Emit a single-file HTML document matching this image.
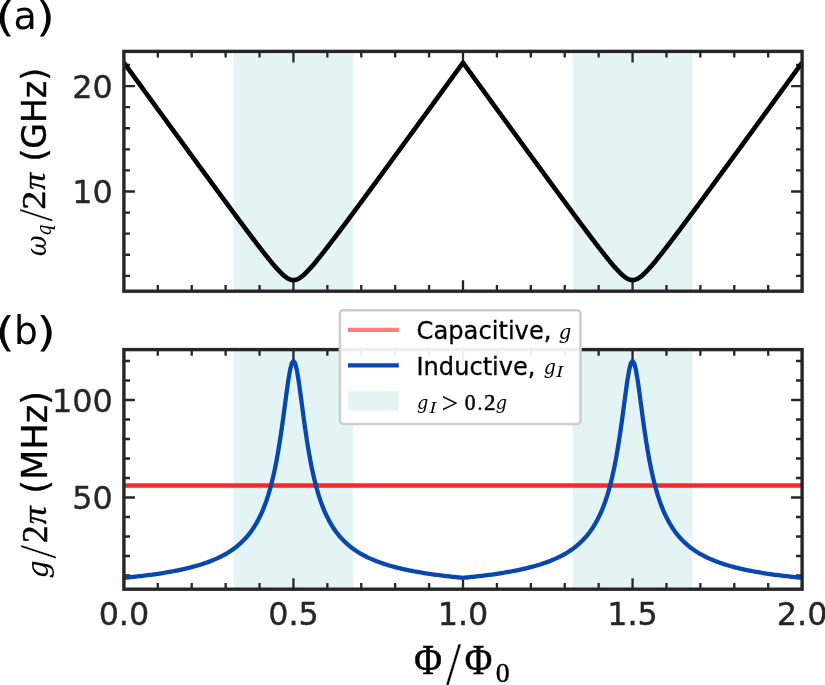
<!DOCTYPE html>
<html><head><meta charset="utf-8"><title>figure</title>
<style>html,body{margin:0;padding:0;background:#fff}svg{display:block}</style></head>
<body>
<svg width="825" height="685" viewBox="0 0 825 685">
<rect width="825" height="685" fill="#fff"/>
<defs>
<clipPath id="ca"><rect x="123.9" y="51.4" width="678.2" height="239.79999999999998"/></clipPath>
<clipPath id="cb"><rect x="123.9" y="349.6" width="678.2" height="239.60000000000002"/></clipPath>
</defs>
<rect x="233.60" y="51.4" width="119.70" height="239.79999999999998" fill="#e4f4f4"/>
<rect x="572.70" y="51.4" width="119.70" height="239.79999999999998" fill="#e4f4f4"/>
<path d="M157.81 51.4v6.1M157.81 291.2v-6.1M191.72 51.4v6.1M191.72 291.2v-6.1M225.63 51.4v6.1M225.63 291.2v-6.1M259.54 51.4v6.1M259.54 291.2v-6.1M293.45 51.4v11.0M293.45 291.2v-11.0M327.36 51.4v6.1M327.36 291.2v-6.1M361.27 51.4v6.1M361.27 291.2v-6.1M395.18 51.4v6.1M395.18 291.2v-6.1M429.09 51.4v6.1M429.09 291.2v-6.1M463.00 51.4v11.0M463.00 291.2v-11.0M496.91 51.4v6.1M496.91 291.2v-6.1M530.82 51.4v6.1M530.82 291.2v-6.1M564.73 51.4v6.1M564.73 291.2v-6.1M598.64 51.4v6.1M598.64 291.2v-6.1M632.55 51.4v11.0M632.55 291.2v-11.0M666.46 51.4v6.1M666.46 291.2v-6.1M700.37 51.4v6.1M700.37 291.2v-6.1M734.28 51.4v6.1M734.28 291.2v-6.1M768.19 51.4v6.1M768.19 291.2v-6.1M123.9 191.50h11.0M802.1 191.50h-11.0M123.9 86.10h11.0M802.1 86.10h-11.0M123.9 275.82h6.1M802.1 275.82h-6.1M123.9 254.74h6.1M802.1 254.74h-6.1M123.9 233.66h6.1M802.1 233.66h-6.1M123.9 212.58h6.1M802.1 212.58h-6.1M123.9 170.42h6.1M802.1 170.42h-6.1M123.9 149.34h6.1M802.1 149.34h-6.1M123.9 128.26h6.1M802.1 128.26h-6.1M123.9 107.18h6.1M802.1 107.18h-6.1M123.9 65.02h6.1M802.1 65.02h-6.1" stroke="#262626" stroke-width="2.3" fill="none"/>
<polyline points="123.90,62.70 124.75,63.87 125.60,65.03 126.44,66.20 127.29,67.36 128.14,68.53 128.99,69.69 129.83,70.85 130.68,72.02 131.53,73.18 132.38,74.35 133.23,75.51 134.07,76.68 134.92,77.84 135.77,79.01 136.62,80.17 137.46,81.34 138.31,82.50 139.16,83.66 140.01,84.83 140.86,85.99 141.70,87.16 142.55,88.32 143.40,89.49 144.25,90.65 145.09,91.81 145.94,92.98 146.79,94.14 147.64,95.31 148.48,96.47 149.33,97.63 150.18,98.80 151.03,99.96 151.88,101.12 152.72,102.29 153.57,103.45 154.42,104.61 155.27,105.78 156.11,106.94 156.96,108.10 157.81,109.27 158.66,110.43 159.51,111.59 160.35,112.76 161.20,113.92 162.05,115.08 162.90,116.25 163.74,117.41 164.59,118.57 165.44,119.73 166.29,120.90 167.14,122.06 167.98,123.22 168.83,124.38 169.68,125.55 170.53,126.71 171.37,127.87 172.22,129.03 173.07,130.20 173.92,131.36 174.77,132.52 175.61,133.68 176.46,134.84 177.31,136.00 178.16,137.17 179.00,138.33 179.85,139.49 180.70,140.65 181.55,141.81 182.39,142.97 183.24,144.13 184.09,145.29 184.94,146.45 185.79,147.61 186.63,148.77 187.48,149.93 188.33,151.10 189.18,152.26 190.02,153.42 190.87,154.57 191.72,155.73 192.57,156.89 193.42,158.05 194.26,159.21 195.11,160.37 195.96,161.53 196.81,162.69 197.65,163.85 198.50,165.01 199.35,166.16 200.20,167.32 201.05,168.48 201.89,169.64 202.74,170.80 203.59,171.95 204.44,173.11 205.28,174.27 206.13,175.42 206.98,176.58 207.83,177.74 208.68,178.89 209.52,180.05 210.37,181.20 211.22,182.36 212.07,183.52 212.91,184.67 213.76,185.82 214.61,186.98 215.46,188.13 216.30,189.29 217.15,190.44 218.00,191.59 218.85,192.75 219.70,193.90 220.54,195.05 221.39,196.20 222.24,197.35 223.09,198.50 223.93,199.65 224.78,200.80 225.63,201.95 226.48,203.10 227.33,204.25 228.17,205.40 229.02,206.55 229.87,207.69 230.72,208.84 231.56,209.99 232.41,211.13 233.26,212.28 234.11,213.42 234.96,214.57 235.80,215.71 236.65,216.85 237.50,217.99 238.35,219.13 239.19,220.27 240.04,221.41 240.89,222.55 241.74,223.69 242.59,224.82 243.43,225.96 244.28,227.09 245.13,228.22 245.98,229.36 246.82,230.49 247.67,231.61 248.52,232.74 249.37,233.87 250.21,234.99 251.06,236.12 251.91,237.24 252.76,238.36 253.61,239.47 254.45,240.59 255.30,241.70 256.15,242.81 257.00,243.92 257.84,245.03 258.69,246.13 259.54,247.23 260.39,248.33 261.24,249.42 262.08,250.51 262.93,251.60 263.78,252.68 264.63,253.76 265.47,254.83 266.32,255.90 267.17,256.96 268.02,258.01 268.87,259.06 269.71,260.11 270.56,261.14 271.41,262.16 272.26,263.18 273.10,264.19 273.95,265.18 274.80,266.17 275.65,267.13 276.50,268.09 277.34,269.03 278.19,269.95 279.04,270.85 279.89,271.73 280.73,272.58 281.58,273.41 282.43,274.21 283.28,274.97 284.12,275.70 284.97,276.39 285.82,277.03 286.67,277.62 287.52,278.16 288.36,278.64 289.21,279.05 290.06,279.40 290.91,279.68 291.75,279.87 292.60,280.00 293.45,280.04 294.30,280.00 295.15,279.87 295.99,279.68 296.84,279.40 297.69,279.05 298.54,278.64 299.38,278.16 300.23,277.62 301.08,277.03 301.93,276.39 302.78,275.70 303.62,274.97 304.47,274.21 305.32,273.41 306.17,272.58 307.01,271.73 307.86,270.85 308.71,269.95 309.56,269.03 310.41,268.09 311.25,267.13 312.10,266.17 312.95,265.18 313.80,264.19 314.64,263.18 315.49,262.16 316.34,261.14 317.19,260.11 318.03,259.06 318.88,258.01 319.73,256.96 320.58,255.90 321.43,254.83 322.27,253.76 323.12,252.68 323.97,251.60 324.82,250.51 325.66,249.42 326.51,248.33 327.36,247.23 328.21,246.13 329.06,245.03 329.90,243.92 330.75,242.81 331.60,241.70 332.45,240.59 333.29,239.47 334.14,238.36 334.99,237.24 335.84,236.12 336.69,234.99 337.53,233.87 338.38,232.74 339.23,231.61 340.08,230.49 340.92,229.36 341.77,228.22 342.62,227.09 343.47,225.96 344.32,224.82 345.16,223.69 346.01,222.55 346.86,221.41 347.71,220.27 348.55,219.13 349.40,217.99 350.25,216.85 351.10,215.71 351.94,214.57 352.79,213.42 353.64,212.28 354.49,211.13 355.34,209.99 356.18,208.84 357.03,207.69 357.88,206.55 358.73,205.40 359.57,204.25 360.42,203.10 361.27,201.95 362.12,200.80 362.97,199.65 363.81,198.50 364.66,197.35 365.51,196.20 366.36,195.05 367.20,193.90 368.05,192.75 368.90,191.59 369.75,190.44 370.60,189.29 371.44,188.13 372.29,186.98 373.14,185.82 373.99,184.67 374.83,183.52 375.68,182.36 376.53,181.20 377.38,180.05 378.23,178.89 379.07,177.74 379.92,176.58 380.77,175.42 381.62,174.27 382.46,173.11 383.31,171.95 384.16,170.80 385.01,169.64 385.85,168.48 386.70,167.32 387.55,166.16 388.40,165.01 389.25,163.85 390.09,162.69 390.94,161.53 391.79,160.37 392.64,159.21 393.48,158.05 394.33,156.89 395.18,155.73 396.03,154.57 396.88,153.42 397.72,152.26 398.57,151.10 399.42,149.93 400.27,148.77 401.11,147.61 401.96,146.45 402.81,145.29 403.66,144.13 404.51,142.97 405.35,141.81 406.20,140.65 407.05,139.49 407.90,138.33 408.74,137.17 409.59,136.00 410.44,134.84 411.29,133.68 412.13,132.52 412.98,131.36 413.83,130.20 414.68,129.03 415.53,127.87 416.37,126.71 417.22,125.55 418.07,124.38 418.92,123.22 419.76,122.06 420.61,120.90 421.46,119.73 422.31,118.57 423.16,117.41 424.00,116.25 424.85,115.08 425.70,113.92 426.55,112.76 427.39,111.59 428.24,110.43 429.09,109.27 429.94,108.10 430.79,106.94 431.63,105.78 432.48,104.61 433.33,103.45 434.18,102.29 435.02,101.12 435.87,99.96 436.72,98.80 437.57,97.63 438.42,96.47 439.26,95.31 440.11,94.14 440.96,92.98 441.81,91.81 442.65,90.65 443.50,89.49 444.35,88.32 445.20,87.16 446.05,85.99 446.89,84.83 447.74,83.66 448.59,82.50 449.44,81.34 450.28,80.17 451.13,79.01 451.98,77.84 452.83,76.68 453.67,75.51 454.52,74.35 455.37,73.18 456.22,72.02 457.07,70.85 457.91,69.69 458.76,68.53 459.61,67.36 460.46,66.20 461.30,65.03 462.15,63.87 463.00,62.70 463.85,63.87 464.70,65.03 465.54,66.20 466.39,67.36 467.24,68.53 468.09,69.69 468.93,70.85 469.78,72.02 470.63,73.18 471.48,74.35 472.33,75.51 473.17,76.68 474.02,77.84 474.87,79.01 475.72,80.17 476.56,81.34 477.41,82.50 478.26,83.66 479.11,84.83 479.96,85.99 480.80,87.16 481.65,88.32 482.50,89.49 483.35,90.65 484.19,91.81 485.04,92.98 485.89,94.14 486.74,95.31 487.58,96.47 488.43,97.63 489.28,98.80 490.13,99.96 490.98,101.12 491.82,102.29 492.67,103.45 493.52,104.61 494.37,105.78 495.21,106.94 496.06,108.10 496.91,109.27 497.76,110.43 498.61,111.59 499.45,112.76 500.30,113.92 501.15,115.08 502.00,116.25 502.84,117.41 503.69,118.57 504.54,119.73 505.39,120.90 506.24,122.06 507.08,123.22 507.93,124.38 508.78,125.55 509.63,126.71 510.47,127.87 511.32,129.03 512.17,130.20 513.02,131.36 513.87,132.52 514.71,133.68 515.56,134.84 516.41,136.00 517.26,137.17 518.10,138.33 518.95,139.49 519.80,140.65 520.65,141.81 521.49,142.97 522.34,144.13 523.19,145.29 524.04,146.45 524.89,147.61 525.73,148.77 526.58,149.93 527.43,151.10 528.28,152.26 529.12,153.42 529.97,154.57 530.82,155.73 531.67,156.89 532.52,158.05 533.36,159.21 534.21,160.37 535.06,161.53 535.91,162.69 536.75,163.85 537.60,165.01 538.45,166.16 539.30,167.32 540.15,168.48 540.99,169.64 541.84,170.80 542.69,171.95 543.54,173.11 544.38,174.27 545.23,175.42 546.08,176.58 546.93,177.74 547.77,178.89 548.62,180.05 549.47,181.20 550.32,182.36 551.17,183.52 552.01,184.67 552.86,185.82 553.71,186.98 554.56,188.13 555.40,189.29 556.25,190.44 557.10,191.59 557.95,192.75 558.80,193.90 559.64,195.05 560.49,196.20 561.34,197.35 562.19,198.50 563.03,199.65 563.88,200.80 564.73,201.95 565.58,203.10 566.43,204.25 567.27,205.40 568.12,206.55 568.97,207.69 569.82,208.84 570.66,209.99 571.51,211.13 572.36,212.28 573.21,213.42 574.06,214.57 574.90,215.71 575.75,216.85 576.60,217.99 577.45,219.13 578.29,220.27 579.14,221.41 579.99,222.55 580.84,223.69 581.69,224.82 582.53,225.96 583.38,227.09 584.23,228.22 585.08,229.36 585.92,230.49 586.77,231.61 587.62,232.74 588.47,233.87 589.31,234.99 590.16,236.12 591.01,237.24 591.86,238.36 592.71,239.47 593.55,240.59 594.40,241.70 595.25,242.81 596.10,243.92 596.94,245.03 597.79,246.13 598.64,247.23 599.49,248.33 600.34,249.42 601.18,250.51 602.03,251.60 602.88,252.68 603.73,253.76 604.57,254.83 605.42,255.90 606.27,256.96 607.12,258.01 607.97,259.06 608.81,260.11 609.66,261.14 610.51,262.16 611.36,263.18 612.20,264.19 613.05,265.18 613.90,266.17 614.75,267.13 615.60,268.09 616.44,269.03 617.29,269.95 618.14,270.85 618.99,271.73 619.83,272.58 620.68,273.41 621.53,274.21 622.38,274.97 623.22,275.70 624.07,276.39 624.92,277.03 625.77,277.62 626.62,278.16 627.46,278.64 628.31,279.05 629.16,279.40 630.01,279.68 630.85,279.87 631.70,280.00 632.55,280.04 633.40,280.00 634.25,279.87 635.09,279.68 635.94,279.40 636.79,279.05 637.64,278.64 638.48,278.16 639.33,277.62 640.18,277.03 641.03,276.39 641.88,275.70 642.72,274.97 643.57,274.21 644.42,273.41 645.27,272.58 646.11,271.73 646.96,270.85 647.81,269.95 648.66,269.03 649.50,268.09 650.35,267.13 651.20,266.17 652.05,265.18 652.90,264.19 653.74,263.18 654.59,262.16 655.44,261.14 656.29,260.11 657.13,259.06 657.98,258.01 658.83,256.96 659.68,255.90 660.53,254.83 661.37,253.76 662.22,252.68 663.07,251.60 663.92,250.51 664.76,249.42 665.61,248.33 666.46,247.23 667.31,246.13 668.16,245.03 669.00,243.92 669.85,242.81 670.70,241.70 671.55,240.59 672.39,239.47 673.24,238.36 674.09,237.24 674.94,236.12 675.79,234.99 676.63,233.87 677.48,232.74 678.33,231.61 679.18,230.49 680.02,229.36 680.87,228.22 681.72,227.09 682.57,225.96 683.42,224.82 684.26,223.69 685.11,222.55 685.96,221.41 686.81,220.27 687.65,219.13 688.50,217.99 689.35,216.85 690.20,215.71 691.04,214.57 691.89,213.42 692.74,212.28 693.59,211.13 694.44,209.99 695.28,208.84 696.13,207.69 696.98,206.55 697.83,205.40 698.67,204.25 699.52,203.10 700.37,201.95 701.22,200.80 702.07,199.65 702.91,198.50 703.76,197.35 704.61,196.20 705.46,195.05 706.30,193.90 707.15,192.75 708.00,191.59 708.85,190.44 709.70,189.29 710.54,188.13 711.39,186.98 712.24,185.82 713.09,184.67 713.93,183.52 714.78,182.36 715.63,181.20 716.48,180.05 717.33,178.89 718.17,177.74 719.02,176.58 719.87,175.42 720.72,174.27 721.56,173.11 722.41,171.95 723.26,170.80 724.11,169.64 724.95,168.48 725.80,167.32 726.65,166.16 727.50,165.01 728.35,163.85 729.19,162.69 730.04,161.53 730.89,160.37 731.74,159.21 732.58,158.05 733.43,156.89 734.28,155.73 735.13,154.57 735.98,153.42 736.82,152.26 737.67,151.10 738.52,149.93 739.37,148.77 740.21,147.61 741.06,146.45 741.91,145.29 742.76,144.13 743.61,142.97 744.45,141.81 745.30,140.65 746.15,139.49 747.00,138.33 747.84,137.17 748.69,136.00 749.54,134.84 750.39,133.68 751.24,132.52 752.08,131.36 752.93,130.20 753.78,129.03 754.63,127.87 755.47,126.71 756.32,125.55 757.17,124.38 758.02,123.22 758.86,122.06 759.71,120.90 760.56,119.73 761.41,118.57 762.26,117.41 763.10,116.25 763.95,115.08 764.80,113.92 765.65,112.76 766.49,111.59 767.34,110.43 768.19,109.27 769.04,108.10 769.89,106.94 770.73,105.78 771.58,104.61 772.43,103.45 773.28,102.29 774.12,101.12 774.97,99.96 775.82,98.80 776.67,97.63 777.52,96.47 778.36,95.31 779.21,94.14 780.06,92.98 780.91,91.81 781.75,90.65 782.60,89.49 783.45,88.32 784.30,87.16 785.14,85.99 785.99,84.83 786.84,83.66 787.69,82.50 788.54,81.34 789.38,80.17 790.23,79.01 791.08,77.84 791.93,76.68 792.77,75.51 793.62,74.35 794.47,73.18 795.32,72.02 796.17,70.85 797.01,69.69 797.86,68.53 798.71,67.36 799.56,66.20 800.40,65.03 801.25,63.87 802.10,62.70" fill="none" stroke="#000" stroke-width="4.65" stroke-linejoin="round" clip-path="url(#ca)"/>
<rect x="123.9" y="51.4" width="678.2" height="239.79999999999998" fill="none" stroke="#262626" stroke-width="3.4" stroke-linejoin="miter"/>
<rect x="233.60" y="349.6" width="119.70" height="239.60000000000002" fill="#e4f4f4"/>
<rect x="572.70" y="349.6" width="119.70" height="239.60000000000002" fill="#e4f4f4"/>
<path d="M157.81 349.6v6.1M157.81 589.2v-6.1M191.72 349.6v6.1M191.72 589.2v-6.1M225.63 349.6v6.1M225.63 589.2v-6.1M259.54 349.6v6.1M259.54 589.2v-6.1M293.45 349.6v11.0M293.45 589.2v-11.0M327.36 349.6v6.1M327.36 589.2v-6.1M361.27 349.6v6.1M361.27 589.2v-6.1M395.18 349.6v6.1M395.18 589.2v-6.1M429.09 349.6v6.1M429.09 589.2v-6.1M463.00 349.6v11.0M463.00 589.2v-11.0M496.91 349.6v6.1M496.91 589.2v-6.1M530.82 349.6v6.1M530.82 589.2v-6.1M564.73 349.6v6.1M564.73 589.2v-6.1M598.64 349.6v6.1M598.64 589.2v-6.1M632.55 349.6v11.0M632.55 589.2v-11.0M666.46 349.6v6.1M666.46 589.2v-6.1M700.37 349.6v6.1M700.37 589.2v-6.1M734.28 349.6v6.1M734.28 589.2v-6.1M768.19 349.6v6.1M768.19 589.2v-6.1M123.9 497.50h11.0M802.1 497.50h-11.0M123.9 400.00h11.0M802.1 400.00h-11.0M123.9 575.50h6.1M802.1 575.50h-6.1M123.9 556.00h6.1M802.1 556.00h-6.1M123.9 536.50h6.1M802.1 536.50h-6.1M123.9 517.00h6.1M802.1 517.00h-6.1M123.9 478.00h6.1M802.1 478.00h-6.1M123.9 458.50h6.1M802.1 458.50h-6.1M123.9 439.00h6.1M802.1 439.00h-6.1M123.9 419.50h6.1M802.1 419.50h-6.1M123.9 380.50h6.1M802.1 380.50h-6.1M123.9 361.00h6.1M802.1 361.00h-6.1" stroke="#262626" stroke-width="2.3" fill="none"/>
<line x1="123.9" x2="802.1" y1="485.51" y2="485.51" stroke="#ff2626" stroke-width="4.4"/>
<polyline points="123.90,577.83 125.60,577.66 127.29,577.50 128.99,577.33 130.68,577.15 132.38,576.98 134.07,576.80 135.77,576.61 137.46,576.42 139.16,576.23 140.86,576.04 142.55,575.83 144.25,575.63 145.94,575.42 147.64,575.20 149.33,574.98 151.03,574.76 152.72,574.53 154.42,574.29 156.11,574.05 157.81,573.80 159.51,573.55 161.20,573.29 162.90,573.02 164.59,572.75 166.29,572.47 167.98,572.18 169.68,571.88 171.37,571.58 173.07,571.26 174.77,570.94 176.46,570.61 178.16,570.27 179.85,569.92 181.55,569.56 183.24,569.18 184.94,568.80 186.63,568.41 188.33,568.00 190.02,567.58 191.72,567.14 193.42,566.69 195.11,566.23 196.81,565.75 198.50,565.25 200.20,564.73 201.89,564.20 203.59,563.65 205.28,563.07 206.98,562.48 208.68,561.86 210.37,561.21 212.07,560.55 213.76,559.85 215.46,559.12 217.15,558.36 218.85,557.57 220.54,556.75 222.24,555.88 223.93,554.98 225.63,554.03 227.33,553.04 229.02,551.99 230.72,550.89 232.41,549.74 234.11,548.52 235.80,547.24 237.50,545.88 239.19,544.44 240.89,542.92 242.59,541.30 244.28,539.58 245.98,537.75 247.67,535.79 249.37,533.70 251.06,531.46 252.76,529.05 254.45,526.46 256.15,523.66 257.84,520.63 259.54,517.35 261.24,513.79 262.93,509.89 264.63,505.64 266.32,500.98 268.02,495.85 269.71,490.19 271.41,483.93 273.10,477.00 274.80,469.32 276.50,460.80 278.19,451.36 279.89,440.97 281.58,429.62 283.28,417.44 284.97,404.69 286.67,391.93 288.36,379.99 290.06,370.04 291.75,363.36 293.45,361.00 295.15,363.36 296.84,370.04 298.54,379.99 300.23,391.93 301.93,404.69 303.62,417.44 305.32,429.62 307.01,440.97 308.71,451.36 310.41,460.80 312.10,469.32 313.80,477.00 315.49,483.93 317.19,490.19 318.88,495.85 320.58,500.98 322.27,505.64 323.97,509.89 325.66,513.79 327.36,517.35 329.06,520.63 330.75,523.66 332.45,526.46 334.14,529.05 335.84,531.46 337.53,533.70 339.23,535.79 340.92,537.75 342.62,539.58 344.32,541.30 346.01,542.92 347.71,544.44 349.40,545.88 351.10,547.24 352.79,548.52 354.49,549.74 356.18,550.89 357.88,551.99 359.57,553.04 361.27,554.03 362.97,554.98 364.66,555.88 366.36,556.75 368.05,557.57 369.75,558.36 371.44,559.12 373.14,559.85 374.83,560.55 376.53,561.21 378.23,561.86 379.92,562.48 381.62,563.07 383.31,563.65 385.01,564.20 386.70,564.73 388.40,565.25 390.09,565.75 391.79,566.23 393.48,566.69 395.18,567.14 396.88,567.58 398.57,568.00 400.27,568.41 401.96,568.80 403.66,569.18 405.35,569.56 407.05,569.92 408.74,570.27 410.44,570.61 412.13,570.94 413.83,571.26 415.53,571.58 417.22,571.88 418.92,572.18 420.61,572.47 422.31,572.75 424.00,573.02 425.70,573.29 427.39,573.55 429.09,573.80 430.79,574.05 432.48,574.29 434.18,574.53 435.87,574.76 437.57,574.98 439.26,575.20 440.96,575.42 442.65,575.63 444.35,575.83 446.05,576.04 447.74,576.23 449.44,576.42 451.13,576.61 452.83,576.80 454.52,576.98 456.22,577.15 457.91,577.33 459.61,577.50 461.30,577.66 463.00,577.83 464.70,577.66 466.39,577.50 468.09,577.33 469.78,577.15 471.48,576.98 473.17,576.80 474.87,576.61 476.56,576.42 478.26,576.23 479.96,576.04 481.65,575.83 483.35,575.63 485.04,575.42 486.74,575.20 488.43,574.98 490.13,574.76 491.82,574.53 493.52,574.29 495.21,574.05 496.91,573.80 498.61,573.55 500.30,573.29 502.00,573.02 503.69,572.75 505.39,572.47 507.08,572.18 508.78,571.88 510.47,571.58 512.17,571.26 513.87,570.94 515.56,570.61 517.26,570.27 518.95,569.92 520.65,569.56 522.34,569.18 524.04,568.80 525.73,568.41 527.43,568.00 529.12,567.58 530.82,567.14 532.52,566.69 534.21,566.23 535.91,565.75 537.60,565.25 539.30,564.73 540.99,564.20 542.69,563.65 544.38,563.07 546.08,562.48 547.77,561.86 549.47,561.21 551.17,560.55 552.86,559.85 554.56,559.12 556.25,558.36 557.95,557.57 559.64,556.75 561.34,555.88 563.03,554.98 564.73,554.03 566.43,553.04 568.12,551.99 569.82,550.89 571.51,549.74 573.21,548.52 574.90,547.24 576.60,545.88 578.29,544.44 579.99,542.92 581.69,541.30 583.38,539.58 585.08,537.75 586.77,535.79 588.47,533.70 590.16,531.46 591.86,529.05 593.55,526.46 595.25,523.66 596.94,520.63 598.64,517.35 600.34,513.79 602.03,509.89 603.73,505.64 605.42,500.98 607.12,495.85 608.81,490.19 610.51,483.93 612.20,477.00 613.90,469.32 615.60,460.80 617.29,451.36 618.99,440.97 620.68,429.62 622.38,417.44 624.07,404.69 625.77,391.93 627.46,379.99 629.16,370.04 630.85,363.36 632.55,361.00 634.25,363.36 635.94,370.04 637.64,379.99 639.33,391.93 641.03,404.69 642.72,417.44 644.42,429.62 646.11,440.97 647.81,451.36 649.50,460.80 651.20,469.32 652.90,477.00 654.59,483.93 656.29,490.19 657.98,495.85 659.68,500.98 661.37,505.64 663.07,509.89 664.76,513.79 666.46,517.35 668.16,520.63 669.85,523.66 671.55,526.46 673.24,529.05 674.94,531.46 676.63,533.70 678.33,535.79 680.02,537.75 681.72,539.58 683.42,541.30 685.11,542.92 686.81,544.44 688.50,545.88 690.20,547.24 691.89,548.52 693.59,549.74 695.28,550.89 696.98,551.99 698.67,553.04 700.37,554.03 702.07,554.98 703.76,555.88 705.46,556.75 707.15,557.57 708.85,558.36 710.54,559.12 712.24,559.85 713.93,560.55 715.63,561.21 717.33,561.86 719.02,562.48 720.72,563.07 722.41,563.65 724.11,564.20 725.80,564.73 727.50,565.25 729.19,565.75 730.89,566.23 732.58,566.69 734.28,567.14 735.98,567.58 737.67,568.00 739.37,568.41 741.06,568.80 742.76,569.18 744.45,569.56 746.15,569.92 747.84,570.27 749.54,570.61 751.24,570.94 752.93,571.26 754.63,571.58 756.32,571.88 758.02,572.18 759.71,572.47 761.41,572.75 763.10,573.02 764.80,573.29 766.49,573.55 768.19,573.80 769.89,574.05 771.58,574.29 773.28,574.53 774.97,574.76 776.67,574.98 778.36,575.20 780.06,575.42 781.75,575.63 783.45,575.83 785.14,576.04 786.84,576.23 788.54,576.42 790.23,576.61 791.93,576.80 793.62,576.98 795.32,577.15 797.01,577.33 798.71,577.50 800.40,577.66 802.10,577.83" fill="none" stroke="#0848ac" stroke-width="4.3" stroke-linejoin="round" clip-path="url(#cb)"/>
<rect x="123.9" y="349.6" width="678.2" height="239.60000000000002" fill="none" stroke="#262626" stroke-width="3.4" stroke-linejoin="miter"/>
<text transform="translate(112.80,98.00) scale(1,1.03)" font-family="DejaVu Sans, Liberation Sans, sans-serif" font-size="31.8" fill="#262626" stroke="#262626" stroke-width="0.4" text-anchor="end">20</text>
<text transform="translate(112.80,203.40) scale(1,1.03)" font-family="DejaVu Sans, Liberation Sans, sans-serif" font-size="31.8" fill="#262626" stroke="#262626" stroke-width="0.4" text-anchor="end">10</text>
<text transform="translate(112.80,411.90) scale(1,1.03)" font-family="DejaVu Sans, Liberation Sans, sans-serif" font-size="31.8" fill="#262626" stroke="#262626" stroke-width="0.4" text-anchor="end">100</text>
<text transform="translate(112.80,509.40) scale(1,1.03)" font-family="DejaVu Sans, Liberation Sans, sans-serif" font-size="31.8" fill="#262626" stroke="#262626" stroke-width="0.4" text-anchor="end">50</text>
<text transform="translate(123.90,624.60) scale(1,1.03)" font-family="DejaVu Sans, Liberation Sans, sans-serif" font-size="31.8" fill="#262626" stroke="#262626" stroke-width="0.4" text-anchor="middle">0.0</text>
<text transform="translate(293.45,624.60) scale(1,1.03)" font-family="DejaVu Sans, Liberation Sans, sans-serif" font-size="31.8" fill="#262626" stroke="#262626" stroke-width="0.4" text-anchor="middle">0.5</text>
<text transform="translate(463.00,624.60) scale(1,1.03)" font-family="DejaVu Sans, Liberation Sans, sans-serif" font-size="31.8" fill="#262626" stroke="#262626" stroke-width="0.4" text-anchor="middle">1.0</text>
<text transform="translate(632.55,624.60) scale(1,1.03)" font-family="DejaVu Sans, Liberation Sans, sans-serif" font-size="31.8" fill="#262626" stroke="#262626" stroke-width="0.4" text-anchor="middle">1.5</text>
<text transform="translate(802.10,624.60) scale(1,1.03)" font-family="DejaVu Sans, Liberation Sans, sans-serif" font-size="31.8" fill="#262626" stroke="#262626" stroke-width="0.4" text-anchor="middle">2.0</text>
<text transform="translate(-4.87,30.76) scale(1.257,1)" font-family="DejaVu Sans, Liberation Sans, sans-serif" font-size="40.48" fill="#000">(</text>
<text transform="translate(13.61,28.66) scale(0.999,1)" font-family="DejaVu Sans, Liberation Sans, sans-serif" font-size="38.14" fill="#000">a</text>
<text transform="translate(35.91,30.76) scale(1.202,1)" font-family="DejaVu Sans, Liberation Sans, sans-serif" font-size="40.48" fill="#000">)</text>
<text transform="translate(-4.87,345.96) scale(1.257,1)" font-family="DejaVu Sans, Liberation Sans, sans-serif" font-size="40.48" fill="#000">(</text>
<text transform="translate(13.88,344.05) scale(0.967,1)" font-family="DejaVu Sans, Liberation Sans, sans-serif" font-size="38.89" fill="#000">b</text>
<text transform="translate(36.13,345.96) scale(1.257,1)" font-family="DejaVu Sans, Liberation Sans, sans-serif" font-size="40.48" fill="#000">)</text>
<text transform="translate(45.75,256.00) rotate(-90) scale(0.873,1)" font-family="DejaVu Serif, Liberation Serif, serif" font-style="italic" font-size="28.81" fill="#000">ω</text>
<text transform="translate(51.31,236.10) rotate(-90) scale(0.923,1)" font-family="DejaVu Serif, Liberation Serif, serif" font-style="italic" font-size="19.68" fill="#000">q</text>
<text transform="translate(49.20,222.26) rotate(-90) scale(1.057,1)" font-family="DejaVu Sans, Liberation Sans, sans-serif" font-weight="200" font-size="39.91" fill="#000" stroke="#fff" stroke-width="0.35">/</text>
<text transform="translate(44.90,209.77) rotate(-90) scale(1.152,1)" font-family="Liberation Serif, DejaVu Serif, serif" font-size="32.93" fill="#000" stroke="#000" stroke-width="0.5">2</text>
<text transform="translate(45.10,189.68) rotate(-90) scale(1.084,1)" font-family="Liberation Serif, DejaVu Serif, serif" font-style="italic" font-size="31.15" fill="#000" stroke="#000" stroke-width="0.4">π</text>
<text transform="translate(45.6,161.6) rotate(-90)" font-family="DejaVu Sans, Liberation Sans, sans-serif" font-size="33.1" fill="#000" stroke="#000" stroke-width="0.4">(GHz)</text>
<text transform="translate(47.63,578.60) rotate(-90) scale(0.928,1)" font-family="DejaVu Serif, Liberation Serif, serif" font-style="italic" font-size="30.69" fill="#000">g</text>
<text transform="translate(51.68,559.51) rotate(-90) scale(1.050,1)" font-family="DejaVu Sans, Liberation Sans, sans-serif" font-weight="200" font-size="43.32" fill="#000" stroke="#fff" stroke-width="0.35">/</text>
<text transform="translate(46.75,542.99) rotate(-90) scale(1.000,1)" font-family="Liberation Serif, DejaVu Serif, serif" font-size="35.04" fill="#000" stroke="#000" stroke-width="0.5">2</text>
<text transform="translate(46.43,524.29) rotate(-90) scale(1.076,1)" font-family="Liberation Serif, DejaVu Serif, serif" font-style="italic" font-size="33.07" fill="#000" stroke="#000" stroke-width="0.4">π</text>
<text transform="translate(46.75,493.8) rotate(-90)" font-family="DejaVu Sans, Liberation Sans, sans-serif" font-size="35.2" fill="#000" stroke="#000" stroke-width="0.3">(MHz)</text>
<text transform="translate(414.35,674.10) scale(0.909,1)" font-family="Liberation Serif, DejaVu Serif, serif" font-size="41.69" fill="#000" stroke="#000" stroke-width="0.6">Φ</text>
<text transform="translate(443.75,683.67) scale(0.983,1)" font-family="DejaVu Sans, Liberation Sans, sans-serif" font-weight="200" font-size="55.25" fill="#000" stroke="#fff" stroke-width="0.3">/</text>
<text transform="translate(464.76,674.10) scale(0.902,1)" font-family="Liberation Serif, DejaVu Serif, serif" font-size="41.69" fill="#000" stroke="#000" stroke-width="0.6">Φ</text>
<text transform="translate(495.74,681.53) scale(1.005,1)" font-family="Liberation Serif, DejaVu Serif, serif" font-size="27.71" fill="#000" stroke="#000" stroke-width="0.4">0</text>
<rect x="339.9" y="310.2" width="240.6" height="113.9" rx="3.5" ry="3.5" fill="#fff" fill-opacity="0.93" stroke="#cdcdcd" stroke-width="2.5"/>
<line x1="348" x2="398.8" y1="329.8" y2="329.8" stroke="#ff7d7d" stroke-width="4.2"/>
<line x1="348" x2="398.8" y1="365.3" y2="365.3" stroke="#0848ac" stroke-width="4.2"/>
<rect x="348" y="391.4" width="50.8" height="19.1" fill="#e4f4f4"/>
<text x="416.5" y="339.0" font-family="DejaVu Sans, Liberation Sans, sans-serif" font-size="25.4" fill="#000" stroke="#000" stroke-width="0.3" textLength="135" lengthAdjust="spacingAndGlyphs">Capacitive,</text>
<text transform="translate(558.81,338.50) scale(0.967,1)" font-family="DejaVu Serif, Liberation Serif, serif" font-style="italic" font-size="20.24" fill="#000">g</text>
<text x="416.5" y="374.7" font-family="DejaVu Sans, Liberation Sans, sans-serif" font-size="25.4" fill="#000" stroke="#000" stroke-width="0.3" textLength="119" lengthAdjust="spacingAndGlyphs">Inductive,</text>
<text transform="translate(543.84,374.00) scale(0.932,1)" font-family="DejaVu Serif, Liberation Serif, serif" font-style="italic" font-size="20.24" fill="#000">g</text>
<text transform="translate(556.20,377.40) scale(1.237,1)" font-family="DejaVu Serif, Liberation Serif, serif" font-style="italic" font-size="14.95" fill="#000">I</text>
<text transform="translate(417.08,409.01) scale(0.912,1)" font-family="DejaVu Serif, Liberation Serif, serif" font-style="italic" font-size="19.32" fill="#000">g</text>
<text transform="translate(429.39,413.00) scale(1.292,1)" font-family="DejaVu Serif, Liberation Serif, serif" font-style="italic" font-size="14.13" fill="#000">I</text>
<text transform="translate(441.59,412.50) scale(1.037,1)" font-family="Liberation Serif, DejaVu Serif, serif" font-size="28.61" fill="#000" stroke="#000" stroke-width="0.2">&gt;</text>
<text transform="translate(464.87,409.67) scale(0.904,1)" font-family="Liberation Serif, DejaVu Serif, serif" font-size="24.01" fill="#000" stroke="#000" stroke-width="0.5">0</text>
<text transform="translate(476.63,409.98) scale(1.111,1)" font-family="Liberation Serif, DejaVu Serif, serif" font-size="22.85" fill="#000">.</text>
<text transform="translate(484.09,409.60) scale(0.956,1)" font-family="Liberation Serif, DejaVu Serif, serif" font-size="24.01" fill="#000" stroke="#000" stroke-width="0.5">2</text>
<text transform="translate(495.78,409.01) scale(0.912,1)" font-family="DejaVu Serif, Liberation Serif, serif" font-style="italic" font-size="19.32" fill="#000">g</text>
</svg>
</body></html>
